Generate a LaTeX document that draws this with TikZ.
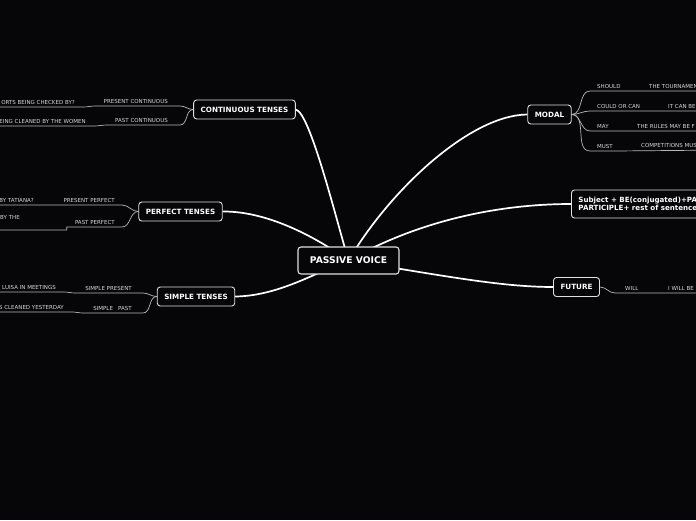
\documentclass[tikz,border=0pt]{standalone}
\usepackage{fontspec}
\setmainfont{DejaVu Sans}
\usetikzlibrary{backgrounds}
\definecolor{bgdark}{HTML}{060608}
\definecolor{linegray}{HTML}{B8B8B8}

\begin{document}
\begin{tikzpicture}[x=1pt,y=1pt,
    topic/.style={draw=white!88!black, fill=bgdark, rounded corners=3pt, line width=0.9pt,
        text=white, font=\fontsize{7.2}{8.5}\selectfont\bfseries, inner xsep=7pt, minimum height=19pt},
    mainline/.style={white, line width=1.7pt},
    subline/.style={linegray, line width=0.7pt},
    lbl/.style={text=white!85!black, font=\fontsize{5.5}{6.5}\selectfont, inner xsep=2pt, inner ysep=2pt}
    ]

    \useasboundingbox (0,0) rectangle (696,-520);
    \clip (0,0) rectangle (696,-520);

    \node[topic, minimum width=101pt, minimum height=27pt, font=\fontsize{9.2}{11}\selectfont\bfseries, line width=1.1pt] (pv) at (348.5,-260.5) {PASSIVE VOICE};
    \node[topic] (cont) at (244.5,-109.5) {CONTINUOUS TENSES};
    \node[topic] (perf) at (180.5,-211.5) {PERFECT TENSES};
    \node[topic] (simp) at (196,-296.5) {SIMPLE TENSES};
    \node[topic] (modal) at (549.5,-114.5) {MODAL};
    \node[topic] (fut) at (576.5,-287) {FUTURE};
    \node[topic, anchor=west, minimum height=28pt, align=left, font=\fontsize{7.1}{8.4}\selectfont\bfseries] (rule) at (571,-204)
        {Subject + BE(conjugated)+PAST\\PARTICIPLE+ rest of sentence};

    % continuous
    \node[lbl, anchor=south east] (prc) at (170,-106) {PRESENT CONTINUOUS};
    \node[lbl, anchor=south east] (prcs) at (77,-107) {ORTS BEING CHECKED BY?};
    \node[lbl, anchor=south east] (pac) at (170,-125) {PAST CONTINUOUS};
    \node[lbl, anchor=south east] (pacs) at (88,-126) {EING CLEANED BY THE WOMEN};

    % perfect
    \node[lbl, anchor=south east] (prp) at (117,-205) {PRESENT PERFECT};
    \node[lbl, anchor=south east] (prps) at (36,-205) {BY TATIANA?};
    \node[lbl, anchor=south east] (pap) at (117,-227) {PAST PERFECT};
    \node[lbl, anchor=south east] (paps) at (22,-222) {BY THE};
    \coordinate (papend) at (0,-230);

    % simple
    \node[lbl, anchor=south east] (sip) at (134,-293) {SIMPLE PRESENT};
    \node[lbl, anchor=south east] (sips) at (58,-292) {LUISA IN MEETINGS};
    \node[lbl, anchor=south east] (sia) at (134,-313) {SIMPLE\ \ \ PAST};
    \node[lbl, anchor=south east] (sias) at (66,-312) {S CLEANED YESTERDAY};

    % modal
    \node[lbl, anchor=south west] (sh) at (595,-91) {SHOULD};
    \node[lbl, anchor=south west] (shs) at (647,-91) {THE TOURNAMENT};
    \node[lbl, anchor=south west] (cc) at (595,-111) {COULD OR CAN};
    \node[lbl, anchor=south west] (ccs) at (666,-111) {IT CAN BE};
    \node[lbl, anchor=south west] (my) at (595,-131) {MAY};
    \node[lbl, anchor=south west] (mys) at (635,-131) {THE RULES MAY BE F};
    \node[lbl, anchor=south west] (mu) at (595,-151) {MUST};
    \node[lbl, anchor=south west] (mus) at (639,-150) {COMPETITIONS MUS};

    % future
    \node[lbl, anchor=south west] (wi) at (623,-293) {WILL};
    \node[lbl, anchor=south west] (wis) at (666,-293) {I WILL BE};

    \begin{scope}[on background layer]
        \fill[bgdark] (0,0) rectangle (696,-520);

        \draw[mainline] (cont.east) .. controls (310,-113) and (335,-215) .. (pv.center);
        \draw[mainline] (perf.east) .. controls (270,-211) and (320,-240) .. (pv.center);
        \draw[mainline] (simp.east) .. controls (280,-296) and (320,-270) .. (pv.center);
        \draw[mainline] (modal.west) .. controls (470,-115) and (390,-190) .. (pv.center);
        \draw[mainline] (rule.west) .. controls (500,-204) and (420,-220) .. (pv.center);
        \draw[mainline] (fut.west) .. controls (500,-287) and (440,-275) .. (pv.center);

        \draw[subline] (cont.west) to[out=180,in=0] ([xshift=10pt]prc.south east) -- ([xshift=-6pt]prc.south west)
            to[out=180,in=0] ([xshift=6pt]prcs.south east) -- ([xshift=-10pt]prcs.south west);
        \draw[subline] (cont.west) to[out=180,in=0] ([xshift=10pt]pac.south east) -- ([xshift=-6pt]pac.south west)
            to[out=180,in=0] ([xshift=6pt]pacs.south east) -- ([xshift=-10pt]pacs.south west);

        \draw[subline] (perf.west) to[out=180,in=0] ([xshift=5pt]prp.south east) -- ([xshift=-6pt]prp.south west)
            to[out=180,in=0] ([xshift=6pt]prps.south east) -- ([xshift=-10pt]prps.south west);
        \draw[subline] (perf.west) to[out=180,in=0] ([xshift=5pt]pap.south east) -- ([xshift=-6pt]pap.south west)
            to[out=180,in=0] ([xshift=-6pt]pap.south west |- papend) -- (papend);

        \draw[subline] (simp.west) to[out=180,in=0] ([xshift=9pt]sip.south east) -- ([xshift=-8pt]sip.south west)
            to[out=180,in=0] ([xshift=6pt]sips.south east) -- ([xshift=-10pt]sips.south west);
        \draw[subline] (simp.west) to[out=180,in=0] ([xshift=9pt]sia.south east) -- ([xshift=-8pt]sia.south west)
            to[out=180,in=0] ([xshift=6pt]sias.south east) -- ([xshift=-10pt]sias.south west);

        \foreach \a/\b in {sh/shs, cc/ccs, my/mys, mu/mus}
            \draw[subline] (modal.east) to[out=0,in=180] ([xshift=-5pt]\a.south west) -- (\a.south east)
                -- ([xshift=30pt]\b.south east);
        \draw[subline] (fut.east) to[out=0,in=180] ([xshift=-8pt]wi.south west) -- ([xshift=30pt]wis.south east);
    \end{scope}

\end{tikzpicture}
\end{document}
